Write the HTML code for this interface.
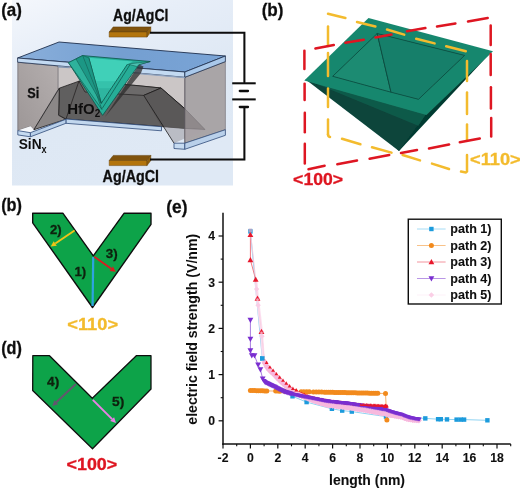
<!DOCTYPE html>
<html><head><meta charset="utf-8"><title>figure</title>
<style>
html,body{margin:0;padding:0;background:#fff;}
body{width:520px;height:489px;overflow:hidden;}
svg{display:block;}
.cb{font-family:"Liberation Sans",sans-serif;font-weight:bold;}
</style></head><body>
<svg width="520" height="489" viewBox="0 0 520 489">
<defs>
<linearGradient id="bg" x1="0" y1="0" x2="0.45" y2="1">
<stop offset="0" stop-color="#f4f7fc"/><stop offset="0.3" stop-color="#e7eef8"/><stop offset="0.65" stop-color="#dee8f4"/><stop offset="1" stop-color="#dfe9f5"/>
</linearGradient>
<linearGradient id="siL" x1="0" y1="1" x2="1" y2="0">
<stop offset="0" stop-color="#9d9797"/><stop offset="1" stop-color="#b5afaf"/>
</linearGradient>
<linearGradient id="body" x1="0.7" y1="0" x2="0.3" y2="1">
<stop offset="0" stop-color="#0f5b4b"/><stop offset="0.35" stop-color="#0b4a3e"/><stop offset="1" stop-color="#073a31"/>
</linearGradient>
<linearGradient id="slab" x1="0" y1="0" x2="1" y2="0">
<stop offset="0" stop-color="#8aafdb"/><stop offset="0.5" stop-color="#749fd1"/><stop offset="1" stop-color="#7aa4d6"/>
</linearGradient>
<filter id="soft" x="-5%" y="-5%" width="110%" height="110%"><feGaussianBlur stdDeviation="0.55"/></filter>
</defs>
<rect width="520" height="489" fill="#fff"/>
<g filter="url(#soft)">

<rect x="12" y="0" width="221" height="185.5" fill="url(#bg)"/>
<polygon points="58.1,66.0 184.8,77.0 184.8,109.0 161.0,88.0 78.9,81.2 59.3,88.2 58.1,89.5" fill="#cbc6c6"/>
<polygon points="17.8,62.2 58.1,66.0 58.1,89.5 33.9,129.7 30.5,126.3 17.8,130.6" fill="url(#siL)" stroke="#5a565c" stroke-width="0.6" stroke-linejoin="round"/>
<polygon points="17.8,130.6 30.5,126.3 33.9,129.7 30.4,132.7" fill="#f6f8fb"/>
<polygon points="59.3,88.2 78.9,81.2 135.0,85.4 161.0,88.0 184.8,108.7 184.8,128.4 161.0,126.5 65.9,119.0 58.6,115.3" fill="#615e5e" stroke="#1c1b1b" stroke-width="0.8" stroke-linejoin="round"/>
<polygon points="78.9,81.2 135.0,85.4 161.0,88.0 143.7,95.4 85.0,92.0" fill="#6c6a6a" stroke="#1c1b1b" stroke-width="0.7" stroke-linejoin="round"/>
<polygon points="59.3,88.2 58.6,115.3 65.9,119.3 33.9,129.7" fill="#8b8787" stroke="#1c1b1b" stroke-width="0.8" stroke-linejoin="round"/>
<line x1="78.9" y1="81.2" x2="65.9" y2="119.3" stroke="#1c1b1b" stroke-width="0.7"/>
<polygon points="65.9,119.0 161.5,126.7 161.5,130.8 65.9,123.3" fill="#c2d7ee" stroke="#2e4a78" stroke-width="0.8" stroke-linejoin="round"/>
<polygon points="17.8,130.6 30.4,132.7 30.4,136.8 17.8,134.9" fill="#c6dbf1" stroke="#2e4a78" stroke-width="0.8" stroke-linejoin="round"/>
<polygon points="30.4,132.7 65.9,119.3 65.9,123.3 30.4,136.8" fill="#b9d0ea" stroke="#2e4a78" stroke-width="0.8" stroke-linejoin="round"/>
<polygon points="143.7,95.4 161.0,88.0 205.0,129.5 174.0,143.2" fill="#8d878b" fill-opacity="0.45"/>
<polygon points="143.7,95.4 161.0,88.0 184.8,108.7 184.8,128.4 161.5,126.5" fill="#545252" fill-opacity="0.8"/>
<polyline points="161,88 143.7,95.4 174,143.2" fill="none" stroke="#1c1b1b" stroke-width="0.8"/>
<line x1="161.0" y1="88.0" x2="184.8" y2="108.7" stroke="#1c1b1b" stroke-width="0.8"/>
<polygon points="184.8,77.3 225.4,61.6 225.4,129.7 184.8,143.2" fill="#a39d9f" stroke="#5d5860" stroke-width="0.5" stroke-linejoin="round" fill-opacity="0.9"/>
<polygon points="184.8,108.7 205.0,129.5 184.8,128.4" fill="#8b8587" fill-opacity="0.85"/>
<polygon points="184.8,128.4 205.0,129.5 184.8,141.0" fill="#aaa4a8" fill-opacity="0.8"/>
<line x1="184.8" y1="108.7" x2="205.0" y2="129.5" stroke="#6d686c" stroke-width="0.5"/>
<line x1="184.8" y1="128.4" x2="205.0" y2="129.5" stroke="#6d686c" stroke-width="0.5"/>
<line x1="184.8" y1="77.3" x2="184.8" y2="143.2" stroke="#4d4850" stroke-width="0.6"/>
<polygon points="174.0,143.2 184.8,143.2 184.8,149.3 174.0,148.5" fill="#c6dbf1" stroke="#2e4a78" stroke-width="0.8" stroke-linejoin="round"/>
<polygon points="184.8,143.2 225.4,129.7 225.4,135.3 184.8,149.3" fill="#b9d0ea" stroke="#2e4a78" stroke-width="0.8" stroke-linejoin="round"/>
<polygon points="17.6,58.0 59.0,42.0 225.4,56.0 184.8,72.0" fill="url(#slab)" stroke="#1e2f4d" stroke-width="0.9" stroke-linejoin="round"/>
<polygon points="17.6,58.0 184.8,72.0 184.8,77.3 17.6,62.2" fill="#c3daf2" stroke="#1e2f4d" stroke-width="0.8" stroke-linejoin="round"/>
<polygon points="184.8,72.0 225.4,56.0 225.4,61.6 184.8,77.3" fill="#a9c8ea" stroke="#1e2f4d" stroke-width="0.8" stroke-linejoin="round"/>
<polygon points="58.1,65.8 68.0,66.7 70.0,68.3 58.1,67.4" fill="#7f93b0"/>
<polygon points="134.0,72.5 184.8,77.0 184.8,78.2 133.0,73.8" fill="#8fa3bf"/>
<polygon points="139.0,64.5 143.5,66.5 141.0,73.0 105.0,117.0" fill="#2e2c2c" fill-opacity="0.75"/>
<polygon points="68.5,62.7 82.7,55.6 150.2,61.5 139.0,64.6 102.6,115.4" fill="#25ad97" stroke="#0f5248" stroke-width="0.8" stroke-linejoin="round"/>
<polygon points="127.4,64.0 150.2,61.5 139.0,64.6 137.0,66.5" fill="#4cc2b2" stroke="#0f5248" stroke-width="0.5" stroke-linejoin="round"/>
<polygon points="88.8,57.8 133.0,61.4 127.4,64.2 101.3,103.3" fill="#3fd0b8"/>
<polygon points="94.2,81.3 116.0,81.3 101.3,103.3" fill="#35c2ab"/>
<polygon points="96.6,88.3 111.3,88.3 101.3,103.3" fill="#2db5a0"/>
<line x1="101.3" y1="103.3" x2="88.8" y2="57.8" stroke="#0f5248" stroke-width="0.8"/>
<line x1="101.3" y1="103.3" x2="127.4" y2="64.2" stroke="#0f5248" stroke-width="0.8"/>
<polygon points="68.5,62.7 82.7,55.6 101.9,109.5" fill="#2db29c" stroke="#0f5248" stroke-width="0.6" stroke-linejoin="round"/>
<polygon points="76.0,59.0 82.7,55.6 88.8,57.8 101.3,103.3" fill="#1f9785" stroke="#0f5248" stroke-width="0.5" stroke-linejoin="round"/>
<line x1="82.7" y1="55.6" x2="101.3" y2="103.3" stroke="#0f5248" stroke-width="0.5"/>
<line x1="130.0" y1="64.6" x2="102.2" y2="108.5" stroke="#0f5248" stroke-width="0.7"/>
<polygon points="113.2,26.9 150.8,26.9 147.0,32.0 109.2,32.0" fill="#80530f" stroke="#5e3c06" stroke-width="0.5" stroke-linejoin="round"/>
<polygon points="109.2,32.0 147.0,32.0 147.0,37.1 109.2,37.1" fill="#b3750f" stroke="#6b4508" stroke-width="0.5" stroke-linejoin="round"/>
<polygon points="147.0,32.0 150.8,26.9 150.8,32.1 147.0,37.1" fill="#8f5e0e" stroke="#6b4508" stroke-width="0.5" stroke-linejoin="round"/>
<polygon points="113.2,155.4 150.8,155.4 147.0,160.5 109.2,160.5" fill="#80530f" stroke="#5e3c06" stroke-width="0.5" stroke-linejoin="round"/>
<polygon points="109.2,160.5 147.0,160.5 147.0,165.6 109.2,165.6" fill="#b3750f" stroke="#6b4508" stroke-width="0.5" stroke-linejoin="round"/>
<polygon points="147.0,160.5 150.8,155.4 150.8,160.6 147.0,165.6" fill="#8f5e0e" stroke="#6b4508" stroke-width="0.5" stroke-linejoin="round"/>
<polyline points="150,32.8 244.4,32.8 244.4,83.3" fill="none" stroke="#0a0a0a" stroke-width="2"/>
<polyline points="150,159.6 244.4,159.6 244.4,107" fill="none" stroke="#0a0a0a" stroke-width="2"/>
<line x1="232.2" y1="83.3" x2="255.7" y2="83.3" stroke="#0a0a0a" stroke-width="2"/>
<line x1="239.8" y1="91.0" x2="248.0" y2="91.0" stroke="#0a0a0a" stroke-width="2.3" stroke-linecap="round"/>
<line x1="232.2" y1="99.4" x2="255.7" y2="99.4" stroke="#0a0a0a" stroke-width="2"/>
<line x1="239.8" y1="107.0" x2="248.0" y2="107.0" stroke="#0a0a0a" stroke-width="2.3" stroke-linecap="round"/>
<text class="cb" x="1.2" y="15.6" font-size="18.5" fill="#111" stroke="#111" stroke-width="0.3" text-anchor="start" textLength="20.8" lengthAdjust="spacingAndGlyphs">(a)</text>
<text class="cb" x="113" y="20.8" font-size="16.2" fill="#111" stroke="#111" stroke-width="0.3" text-anchor="start" textLength="55.5" lengthAdjust="spacingAndGlyphs">Ag/AgCl</text>
<text class="cb" x="102.6" y="181.8" font-size="16.2" fill="#111" stroke="#111" stroke-width="0.3" text-anchor="start" textLength="56.5" lengthAdjust="spacingAndGlyphs">Ag/AgCl</text>
<text class="cb" x="27.3" y="98.3" font-size="15" fill="#111" stroke="#111" stroke-width="0.3" text-anchor="start" textLength="12" lengthAdjust="spacingAndGlyphs">Si</text>
<text class="cb" x="67.3" y="113.8" font-size="15" fill="#111" textLength="33" lengthAdjust="spacingAndGlyphs">HfO<tspan font-size="10" dy="3.2">2</tspan></text>
<text class="cb" x="18.7" y="149.4" font-size="15" fill="#111" textLength="28" lengthAdjust="spacingAndGlyphs">SiN<tspan font-size="10" dy="3.2">x</tspan></text>
<polygon points="423.4,113.0 492.0,51.2 399.0,151.0 397.0,149.0" fill="#063a30"/>
<polygon points="305.3,79.2 426.4,113.5 399.0,151.0" fill="#08443a"/>
<polygon points="305.3,79.2 426.4,113.5 418.2,125.8" fill="#0e5a4a"/>
<polygon points="304.3,80.4 368.5,18.0 493.0,51.2 426.4,115.0" fill="#18876e"/>
<polygon points="332.7,76.3 377.2,33.5 391.0,92.2" fill="#1e8b72" stroke="#0a463b" stroke-width="0.8" stroke-linejoin="round"/>
<polygon points="377.2,33.5 464.6,55.4 418.5,99.3 391.0,92.2" fill="#187f6a" stroke="#0a463b" stroke-width="0.8" stroke-linejoin="round"/>
<line x1="328.0" y1="13.8" x2="345.4" y2="18.0" stroke="#f3bb2d" stroke-width="2.5" stroke-linecap="round"/>
<line x1="357.0" y1="22.0" x2="375.4" y2="26.5" stroke="#f3bb2d" stroke-width="2.5" stroke-linecap="round"/>
<line x1="387.0" y1="29.5" x2="404.2" y2="34.6" stroke="#f3bb2d" stroke-width="2.5" stroke-linecap="round"/>
<line x1="416.2" y1="38.8" x2="434.6" y2="43.4" stroke="#f3bb2d" stroke-width="2.5" stroke-linecap="round"/>
<line x1="446.2" y1="46.2" x2="465.8" y2="51.2" stroke="#f3bb2d" stroke-width="2.5" stroke-linecap="round"/>
<line x1="328.0" y1="26.5" x2="328.0" y2="46.0" stroke="#f3bb2d" stroke-width="2.5" stroke-linecap="round"/>
<line x1="328.0" y1="53.0" x2="328.0" y2="76.0" stroke="#f3bb2d" stroke-width="2.5" stroke-linecap="round"/>
<line x1="328.0" y1="88.5" x2="328.0" y2="107.0" stroke="#f3bb2d" stroke-width="2.5" stroke-linecap="round"/>
<line x1="328.0" y1="119.6" x2="328.0" y2="134.5" stroke="#f3bb2d" stroke-width="2.5" stroke-linecap="round"/>
<line x1="467.0" y1="61.0" x2="467.0" y2="81.0" stroke="#f3bb2d" stroke-width="2.5" stroke-linecap="round"/>
<line x1="467.0" y1="92.6" x2="467.0" y2="114.0" stroke="#f3bb2d" stroke-width="2.5" stroke-linecap="round"/>
<line x1="467.0" y1="124.5" x2="467.0" y2="140.5" stroke="#f3bb2d" stroke-width="2.5" stroke-linecap="round"/>
<line x1="467.0" y1="155.0" x2="467.0" y2="171.5" stroke="#f3bb2d" stroke-width="2.5" stroke-linecap="round"/>
<line x1="342.0" y1="138.8" x2="360.4" y2="144.3" stroke="#f3bb2d" stroke-width="2.5" stroke-linecap="round"/>
<line x1="372.0" y1="147.3" x2="391.5" y2="152.6" stroke="#f3bb2d" stroke-width="2.5" stroke-linecap="round"/>
<line x1="402.7" y1="155.0" x2="420.0" y2="160.4" stroke="#f3bb2d" stroke-width="2.5" stroke-linecap="round"/>
<line x1="432.0" y1="163.6" x2="449.0" y2="169.0" stroke="#f3bb2d" stroke-width="2.5" stroke-linecap="round"/>
<line x1="461.0" y1="171.6" x2="466.0" y2="172.4" stroke="#f3bb2d" stroke-width="2.5" stroke-linecap="round"/>
<path d="M328,134.5 Q328,136.5 330,137" fill="none" stroke="#f3bb2d" stroke-width="2.5" stroke-linecap="round"/>
<line x1="304.4" y1="50.8" x2="304.4" y2="69.0" stroke="#de1420" stroke-width="2.5" stroke-linecap="round"/>
<line x1="304.6" y1="83.8" x2="304.6" y2="100.0" stroke="#de1420" stroke-width="2.5" stroke-linecap="round"/>
<line x1="304.8" y1="112.7" x2="304.8" y2="132.3" stroke="#de1420" stroke-width="2.5" stroke-linecap="round"/>
<line x1="304.8" y1="143.8" x2="304.8" y2="163.5" stroke="#de1420" stroke-width="2.5" stroke-linecap="round"/>
<line x1="315.4" y1="48.5" x2="333.8" y2="45.0" stroke="#de1420" stroke-width="2.5" stroke-linecap="round"/>
<line x1="345.4" y1="42.7" x2="363.8" y2="39.7" stroke="#de1420" stroke-width="2.5" stroke-linecap="round"/>
<line x1="375.4" y1="37.4" x2="391.5" y2="34.6" stroke="#de1420" stroke-width="2.5" stroke-linecap="round"/>
<line x1="407.0" y1="31.2" x2="425.4" y2="28.1" stroke="#de1420" stroke-width="2.5" stroke-linecap="round"/>
<line x1="437.0" y1="26.5" x2="455.4" y2="23.5" stroke="#de1420" stroke-width="2.5" stroke-linecap="round"/>
<line x1="468.0" y1="21.5" x2="487.7" y2="18.0" stroke="#de1420" stroke-width="2.5" stroke-linecap="round"/>
<line x1="490.7" y1="25.4" x2="490.7" y2="45.0" stroke="#de1420" stroke-width="2.5" stroke-linecap="round"/>
<line x1="490.7" y1="54.0" x2="490.7" y2="75.0" stroke="#de1420" stroke-width="2.5" stroke-linecap="round"/>
<line x1="490.9" y1="87.3" x2="490.9" y2="108.6" stroke="#de1420" stroke-width="2.5" stroke-linecap="round"/>
<line x1="491.2" y1="117.9" x2="491.2" y2="136.5" stroke="#de1420" stroke-width="2.5" stroke-linecap="round"/>
<line x1="308.5" y1="169.2" x2="324.6" y2="165.8" stroke="#de1420" stroke-width="2.5" stroke-linecap="round"/>
<line x1="337.3" y1="164.2" x2="357.0" y2="160.5" stroke="#de1420" stroke-width="2.5" stroke-linecap="round"/>
<line x1="369.6" y1="158.8" x2="389.2" y2="155.0" stroke="#de1420" stroke-width="2.5" stroke-linecap="round"/>
<line x1="401.0" y1="153.0" x2="417.0" y2="150.0" stroke="#de1420" stroke-width="2.5" stroke-linecap="round"/>
<line x1="429.0" y1="148.5" x2="449.0" y2="144.5" stroke="#de1420" stroke-width="2.5" stroke-linecap="round"/>
<line x1="459.8" y1="142.3" x2="479.8" y2="138.6" stroke="#de1420" stroke-width="2.5" stroke-linecap="round"/>
<text class="cb" x="293.1" y="184.6" font-size="17" fill="#de1420" stroke="#de1420" stroke-width="0.3" text-anchor="start" textLength="50" lengthAdjust="spacingAndGlyphs">&lt;100&gt;</text>
<text class="cb" x="470" y="165.4" font-size="17.2" fill="#f3bb2d" stroke="#f3bb2d" stroke-width="0.3" text-anchor="start" textLength="50.8" lengthAdjust="spacingAndGlyphs">&lt;110&gt;</text>
<text class="cb" x="261.7" y="15.6" font-size="18.5" fill="#111" stroke="#111" stroke-width="0.3" text-anchor="start" textLength="21.8" lengthAdjust="spacingAndGlyphs">(b)</text>
<polygon points="32.7,213.3 63.0,213.3 93.3,255.8 124.0,213.3 151.0,213.3 151.0,224.4 92.5,307.5 32.7,222.8" fill="#11a348" stroke="#101010" stroke-width="1.4" stroke-linejoin="round"/>
<line x1="93.2" y1="257.0" x2="92.6" y2="306.0" stroke="#2ea3e0" stroke-width="2.2"/>
<line x1="74.6" y1="230.5" x2="55.3" y2="243.5" stroke="#f0c419" stroke-width="1.9"/>
<polygon points="50.7,246.6 53.7,241.2 56.8,245.8" fill="#f0c419"/>
<line x1="94.3" y1="256.8" x2="111.3" y2="268.7" stroke="#d81c22" stroke-width="1.9"/>
<polygon points="115.8,271.8 109.7,270.9 112.9,266.4" fill="#d81c22"/>
<text class="cb" x="50" y="233.7" font-size="13.7" fill="#08200f" stroke="#08200f" stroke-width="0.3" text-anchor="start" textLength="11.7" lengthAdjust="spacingAndGlyphs">2)</text>
<text class="cb" x="74.4" y="275.9" font-size="13.7" fill="#08200f" stroke="#08200f" stroke-width="0.3" text-anchor="start" textLength="11.7" lengthAdjust="spacingAndGlyphs">1)</text>
<text class="cb" x="105.8" y="258" font-size="13.7" fill="#08200f" stroke="#08200f" stroke-width="0.3" text-anchor="start" textLength="11.9" lengthAdjust="spacingAndGlyphs">3)</text>
<text class="cb" x="67.3" y="329.6" font-size="17.2" fill="#f3bb2d" stroke="#f3bb2d" stroke-width="0.3" text-anchor="start" textLength="50.8" lengthAdjust="spacingAndGlyphs">&lt;110&gt;</text>
<text class="cb" x="1.2" y="211.2" font-size="18.5" fill="#111" stroke="#111" stroke-width="0.3" text-anchor="start" textLength="20.8" lengthAdjust="spacingAndGlyphs">(b)</text>
<polygon points="32.8,355.7 49.5,355.7 92.3,398.2 136.3,355.7 151.0,355.7 151.0,389.0 92.5,448.7 32.7,390.5" fill="#11a348" stroke="#101010" stroke-width="1.3" stroke-linejoin="round"/>
<line x1="75.8" y1="384.0" x2="56.3" y2="402.2" stroke="#63566f" stroke-width="1.9"/>
<polygon points="52.3,406.0 54.4,400.2 58.2,404.2" fill="#63566f"/>
<line x1="92.8" y1="399.8" x2="112.1" y2="419.1" stroke="#ea80e6" stroke-width="1.9"/>
<polygon points="116.0,423.0 110.2,421.1 114.1,417.2" fill="#ea80e6"/>
<text class="cb" x="47" y="385.5" font-size="13.7" fill="#08200f" stroke="#08200f" stroke-width="0.3" text-anchor="start" textLength="12.2" lengthAdjust="spacingAndGlyphs">4)</text>
<text class="cb" x="112" y="405.5" font-size="13.7" fill="#08200f" stroke="#08200f" stroke-width="0.3" text-anchor="start" textLength="12.2" lengthAdjust="spacingAndGlyphs">5)</text>
<text class="cb" x="66.5" y="470.3" font-size="17" fill="#de1420" stroke="#de1420" stroke-width="0.3" text-anchor="start" textLength="50.8" lengthAdjust="spacingAndGlyphs">&lt;100&gt;</text>
<text class="cb" x="1.2" y="353.6" font-size="18.5" fill="#111" stroke="#111" stroke-width="0.3" text-anchor="start" textLength="20.8" lengthAdjust="spacingAndGlyphs">(d)</text>
<line x1="223.0" y1="212.8" x2="223.0" y2="444.7" stroke="#111" stroke-width="1.5"/>
<line x1="222.3" y1="444.0" x2="510.7" y2="444.0" stroke="#111" stroke-width="1.5"/>
<line x1="223.0" y1="444.0" x2="223.0" y2="448.4" stroke="#111" stroke-width="1.2"/>
<text class="cb" x="223.0" y="462.4" font-size="12.2" fill="#111" stroke="#111" stroke-width="0.1" text-anchor="middle">-2</text>
<line x1="236.7" y1="444.0" x2="236.7" y2="446.3" stroke="#111" stroke-width="1.1"/>
<line x1="250.4" y1="444.0" x2="250.4" y2="448.4" stroke="#111" stroke-width="1.2"/>
<text class="cb" x="250.4" y="462.4" font-size="12.2" fill="#111" stroke="#111" stroke-width="0.1" text-anchor="middle">0</text>
<line x1="264.1" y1="444.0" x2="264.1" y2="446.3" stroke="#111" stroke-width="1.1"/>
<line x1="277.8" y1="444.0" x2="277.8" y2="448.4" stroke="#111" stroke-width="1.2"/>
<text class="cb" x="277.8" y="462.4" font-size="12.2" fill="#111" stroke="#111" stroke-width="0.1" text-anchor="middle">2</text>
<line x1="291.5" y1="444.0" x2="291.5" y2="446.3" stroke="#111" stroke-width="1.1"/>
<line x1="305.2" y1="444.0" x2="305.2" y2="448.4" stroke="#111" stroke-width="1.2"/>
<text class="cb" x="305.2" y="462.4" font-size="12.2" fill="#111" stroke="#111" stroke-width="0.1" text-anchor="middle">4</text>
<line x1="318.9" y1="444.0" x2="318.9" y2="446.3" stroke="#111" stroke-width="1.1"/>
<line x1="332.6" y1="444.0" x2="332.6" y2="448.4" stroke="#111" stroke-width="1.2"/>
<text class="cb" x="332.6" y="462.4" font-size="12.2" fill="#111" stroke="#111" stroke-width="0.1" text-anchor="middle">6</text>
<line x1="346.3" y1="444.0" x2="346.3" y2="446.3" stroke="#111" stroke-width="1.1"/>
<line x1="360.0" y1="444.0" x2="360.0" y2="448.4" stroke="#111" stroke-width="1.2"/>
<text class="cb" x="360.0" y="462.4" font-size="12.2" fill="#111" stroke="#111" stroke-width="0.1" text-anchor="middle">8</text>
<line x1="373.7" y1="444.0" x2="373.7" y2="446.3" stroke="#111" stroke-width="1.1"/>
<line x1="387.4" y1="444.0" x2="387.4" y2="448.4" stroke="#111" stroke-width="1.2"/>
<text class="cb" x="387.4" y="462.4" font-size="12.2" fill="#111" stroke="#111" stroke-width="0.1" text-anchor="middle">10</text>
<line x1="401.1" y1="444.0" x2="401.1" y2="446.3" stroke="#111" stroke-width="1.1"/>
<line x1="414.8" y1="444.0" x2="414.8" y2="448.4" stroke="#111" stroke-width="1.2"/>
<text class="cb" x="414.8" y="462.4" font-size="12.2" fill="#111" stroke="#111" stroke-width="0.1" text-anchor="middle">12</text>
<line x1="428.5" y1="444.0" x2="428.5" y2="446.3" stroke="#111" stroke-width="1.1"/>
<line x1="442.2" y1="444.0" x2="442.2" y2="448.4" stroke="#111" stroke-width="1.2"/>
<text class="cb" x="442.2" y="462.4" font-size="12.2" fill="#111" stroke="#111" stroke-width="0.1" text-anchor="middle">14</text>
<line x1="455.9" y1="444.0" x2="455.9" y2="446.3" stroke="#111" stroke-width="1.1"/>
<line x1="469.6" y1="444.0" x2="469.6" y2="448.4" stroke="#111" stroke-width="1.2"/>
<text class="cb" x="469.6" y="462.4" font-size="12.2" fill="#111" stroke="#111" stroke-width="0.1" text-anchor="middle">16</text>
<line x1="483.3" y1="444.0" x2="483.3" y2="446.3" stroke="#111" stroke-width="1.1"/>
<line x1="497.0" y1="444.0" x2="497.0" y2="448.4" stroke="#111" stroke-width="1.2"/>
<text class="cb" x="497.0" y="462.4" font-size="12.2" fill="#111" stroke="#111" stroke-width="0.1" text-anchor="middle">18</text>
<line x1="510.7" y1="444.0" x2="510.7" y2="446.3" stroke="#111" stroke-width="1.1"/>
<line x1="218.6" y1="420.8" x2="223.0" y2="420.8" stroke="#111" stroke-width="1.2"/>
<text class="cb" x="215.0" y="425.1" font-size="12.2" fill="#111" stroke="#111" stroke-width="0.1" text-anchor="end">0</text>
<line x1="220.7" y1="397.7" x2="223.0" y2="397.7" stroke="#111" stroke-width="1.1"/>
<line x1="218.6" y1="374.6" x2="223.0" y2="374.6" stroke="#111" stroke-width="1.2"/>
<text class="cb" x="215.0" y="378.9" font-size="12.2" fill="#111" stroke="#111" stroke-width="0.1" text-anchor="end">1</text>
<line x1="220.7" y1="351.5" x2="223.0" y2="351.5" stroke="#111" stroke-width="1.1"/>
<line x1="218.6" y1="328.4" x2="223.0" y2="328.4" stroke="#111" stroke-width="1.2"/>
<text class="cb" x="215.0" y="332.7" font-size="12.2" fill="#111" stroke="#111" stroke-width="0.1" text-anchor="end">2</text>
<line x1="220.7" y1="305.3" x2="223.0" y2="305.3" stroke="#111" stroke-width="1.1"/>
<line x1="218.6" y1="282.2" x2="223.0" y2="282.2" stroke="#111" stroke-width="1.2"/>
<text class="cb" x="215.0" y="286.5" font-size="12.2" fill="#111" stroke="#111" stroke-width="0.1" text-anchor="end">3</text>
<line x1="220.7" y1="259.1" x2="223.0" y2="259.1" stroke="#111" stroke-width="1.1"/>
<line x1="218.6" y1="236.0" x2="223.0" y2="236.0" stroke="#111" stroke-width="1.2"/>
<text class="cb" x="215.0" y="240.3" font-size="12.2" fill="#111" stroke="#111" stroke-width="0.1" text-anchor="end">4</text>
<text class="cb" x="367" y="485" font-size="14" fill="#111" stroke="#111" stroke-width="0.1" text-anchor="middle" textLength="76" lengthAdjust="spacingAndGlyphs">length (nm)</text>
<text class="cb" transform="translate(197,329.2) rotate(-90)" font-size="14" fill="#111" text-anchor="middle" textLength="191" lengthAdjust="spacingAndGlyphs">electric field strength (V/nm)</text>
<polyline points="250.4,231.4 262.3,358.4 292.5,396.3 306.6,402.1 331.9,408.8 342.2,410.6 351.8,411.6 386.0,416.6 425.3,418.4 438.1,419.2 440.8,419.2 447.0,419.4 456.6,419.6 460.7,419.6 464.1,419.6 487.4,420.3" fill="none" stroke="#8fd3f2" stroke-width="1.0" stroke-opacity="1" stroke-linejoin="round"/>
<rect x="248.2" y="229.2" width="4.4" height="4.4" fill="#1c9bdc"/>
<rect x="260.1" y="356.2" width="4.4" height="4.4" fill="#1c9bdc"/>
<rect x="290.3" y="394.1" width="4.4" height="4.4" fill="#1c9bdc"/>
<rect x="304.4" y="399.9" width="4.4" height="4.4" fill="#1c9bdc"/>
<rect x="329.7" y="406.6" width="4.4" height="4.4" fill="#1c9bdc"/>
<rect x="340.0" y="408.4" width="4.4" height="4.4" fill="#1c9bdc"/>
<rect x="349.6" y="409.4" width="4.4" height="4.4" fill="#1c9bdc"/>
<rect x="383.8" y="414.4" width="4.4" height="4.4" fill="#1c9bdc"/>
<rect x="423.1" y="416.2" width="4.4" height="4.4" fill="#1c9bdc"/>
<rect x="435.9" y="417.0" width="4.4" height="4.4" fill="#1c9bdc"/>
<rect x="438.6" y="417.0" width="4.4" height="4.4" fill="#1c9bdc"/>
<rect x="444.8" y="417.2" width="4.4" height="4.4" fill="#1c9bdc"/>
<rect x="454.4" y="417.4" width="4.4" height="4.4" fill="#1c9bdc"/>
<rect x="458.5" y="417.4" width="4.4" height="4.4" fill="#1c9bdc"/>
<rect x="461.9" y="417.4" width="4.4" height="4.4" fill="#1c9bdc"/>
<rect x="485.2" y="418.1" width="4.4" height="4.4" fill="#1c9bdc"/>
<polyline points="250.4,390.5 252.5,390.6 254.5,390.6 256.6,390.7 258.6,390.7 260.7,390.8 262.7,390.8 264.8,390.9 266.8,390.9 275.7,391.1 277.8,391.1 279.9,391.2 284.6,391.3 290.1,391.4 295.6,391.5 301.1,391.7 303.8,391.7 306.6,391.8 309.3,391.8 313.4,391.9 316.2,392.0 318.9,392.0 321.6,392.1 324.4,392.2 326.4,392.2 328.5,392.3 330.5,392.3 332.6,392.3 334.7,392.4 336.7,392.4 338.8,392.5 340.8,392.5 342.9,392.6 344.9,392.6 347.0,392.7 349.0,392.7 351.1,392.7 353.1,392.8 355.2,392.8 357.3,392.9 359.3,392.9 361.4,393.0 363.4,393.0 365.5,393.1 367.5,393.1 369.6,393.2 371.6,393.2 373.7,393.2 375.8,393.3 377.8,393.3 385.5,393.5 386.9,420.1" fill="none" stroke="#f6b26b" stroke-width="1.0" stroke-opacity="1" stroke-linejoin="round"/>
<circle cx="250.4" cy="390.5" r="2.5" fill="#f28a1c"/>
<circle cx="252.5" cy="390.6" r="2.5" fill="#f28a1c"/>
<circle cx="254.5" cy="390.6" r="2.5" fill="#f28a1c"/>
<circle cx="256.6" cy="390.7" r="2.5" fill="#f28a1c"/>
<circle cx="258.6" cy="390.7" r="2.5" fill="#f28a1c"/>
<circle cx="260.7" cy="390.8" r="2.5" fill="#f28a1c"/>
<circle cx="262.7" cy="390.8" r="2.5" fill="#f28a1c"/>
<circle cx="264.8" cy="390.9" r="2.5" fill="#f28a1c"/>
<circle cx="266.8" cy="390.9" r="2.5" fill="#f28a1c"/>
<circle cx="275.7" cy="391.1" r="2.5" fill="#f28a1c"/>
<circle cx="277.8" cy="391.1" r="2.5" fill="#f28a1c"/>
<circle cx="279.9" cy="391.2" r="2.5" fill="#f28a1c"/>
<circle cx="284.6" cy="391.3" r="2.5" fill="#f28a1c"/>
<circle cx="290.1" cy="391.4" r="2.5" fill="#f28a1c"/>
<circle cx="295.6" cy="391.5" r="2.5" fill="#f28a1c"/>
<circle cx="301.1" cy="391.7" r="2.5" fill="#f28a1c"/>
<circle cx="303.8" cy="391.7" r="2.5" fill="#f28a1c"/>
<circle cx="306.6" cy="391.8" r="2.5" fill="#f28a1c"/>
<circle cx="309.3" cy="391.8" r="2.5" fill="#f28a1c"/>
<circle cx="313.4" cy="391.9" r="2.5" fill="#f28a1c"/>
<circle cx="316.2" cy="392.0" r="2.5" fill="#f28a1c"/>
<circle cx="318.9" cy="392.0" r="2.5" fill="#f28a1c"/>
<circle cx="321.6" cy="392.1" r="2.5" fill="#f28a1c"/>
<circle cx="324.4" cy="392.2" r="2.5" fill="#f28a1c"/>
<circle cx="326.4" cy="392.2" r="2.5" fill="#f28a1c"/>
<circle cx="328.5" cy="392.3" r="2.5" fill="#f28a1c"/>
<circle cx="330.5" cy="392.3" r="2.5" fill="#f28a1c"/>
<circle cx="332.6" cy="392.3" r="2.5" fill="#f28a1c"/>
<circle cx="334.7" cy="392.4" r="2.5" fill="#f28a1c"/>
<circle cx="336.7" cy="392.4" r="2.5" fill="#f28a1c"/>
<circle cx="338.8" cy="392.5" r="2.5" fill="#f28a1c"/>
<circle cx="340.8" cy="392.5" r="2.5" fill="#f28a1c"/>
<circle cx="342.9" cy="392.6" r="2.5" fill="#f28a1c"/>
<circle cx="344.9" cy="392.6" r="2.5" fill="#f28a1c"/>
<circle cx="347.0" cy="392.7" r="2.5" fill="#f28a1c"/>
<circle cx="349.0" cy="392.7" r="2.5" fill="#f28a1c"/>
<circle cx="351.1" cy="392.7" r="2.5" fill="#f28a1c"/>
<circle cx="353.1" cy="392.8" r="2.5" fill="#f28a1c"/>
<circle cx="355.2" cy="392.8" r="2.5" fill="#f28a1c"/>
<circle cx="357.3" cy="392.9" r="2.5" fill="#f28a1c"/>
<circle cx="359.3" cy="392.9" r="2.5" fill="#f28a1c"/>
<circle cx="361.4" cy="393.0" r="2.5" fill="#f28a1c"/>
<circle cx="363.4" cy="393.0" r="2.5" fill="#f28a1c"/>
<circle cx="365.5" cy="393.1" r="2.5" fill="#f28a1c"/>
<circle cx="367.5" cy="393.1" r="2.5" fill="#f28a1c"/>
<circle cx="369.6" cy="393.2" r="2.5" fill="#f28a1c"/>
<circle cx="371.6" cy="393.2" r="2.5" fill="#f28a1c"/>
<circle cx="373.7" cy="393.2" r="2.5" fill="#f28a1c"/>
<circle cx="375.8" cy="393.3" r="2.5" fill="#f28a1c"/>
<circle cx="377.8" cy="393.3" r="2.5" fill="#f28a1c"/>
<circle cx="385.5" cy="393.5" r="2.5" fill="#f28a1c"/>
<circle cx="386.9" cy="420.1" r="2.5" fill="#f28a1c"/>
<polyline points="250.4,230.5 250.4,260.0 255.7,279.4 257.5,298.4 261.5,331.6 264.1,359.4 268.2,366.7 274.2,372.8 283.8,382.5 293.6,390.3 312.7,397.7 332.6,401.4 360.0,404.6 385.5,406.0" fill="none" stroke="#f07a85" stroke-width="1.0" stroke-opacity="1" stroke-linejoin="round"/>
<polyline points="250.4,320.1 250.4,339.0 250.4,350.6 251.8,355.7 254.5,355.7 258.1,364.9 260.4,369.5 262.7,378.8 264.6,382.0 274.2,386.6 283.8,391.5 293.6,394.5 312.7,398.3 327.1,401.2 350.4,403.7 367.3,406.3 385.5,409.7 401.9,414.6 420.0,419.4" fill="none" stroke="#a77be0" stroke-width="1.0" stroke-opacity="1" stroke-linejoin="round"/>
<polyline points="250.4,231.4 255.7,279.4" fill="none" stroke="#f3c9dc" stroke-width="1.0" stroke-opacity="0.9" stroke-linejoin="round"/>
<polyline points="256.0,282.2 257.5,298.4 261.5,331.6 263.4,360.7" fill="none" stroke="#fbdcee" stroke-width="3.0" stroke-opacity="0.9" stroke-linejoin="round"/>
<polygon points="256.6,286.4 259.3,289.1 256.6,291.8 253.9,289.1" fill="#f9cde6"/>
<polygon points="257.5,295.7 260.2,298.4 257.5,301.1 254.8,298.4" fill="#f9cde6"/>
<polygon points="258.1,302.6 260.8,305.3 258.1,308.0 255.4,305.3" fill="#f9cde6"/>
<polygon points="261.5,328.9 264.2,331.6 261.5,334.3 258.8,331.6" fill="#f9cde6"/>
<polygon points="261.9,333.6 264.6,336.3 261.9,339.0 259.2,336.3" fill="#f9cde6"/>
<polygon points="250.4,231.7 253.3,236.9 247.5,236.9" fill="#e8192c"/>
<polygon points="250.4,257.1 253.3,262.3 247.5,262.3" fill="#e8192c"/>
<polygon points="255.7,276.5 258.6,281.7 252.8,281.7" fill="#e8192c"/>
<polygon points="257.5,295.5 260.4,300.7 254.6,300.7" fill="#e8192c"/>
<polygon points="261.5,328.7 264.4,334.0 258.6,334.0" fill="#e8192c"/>
<polygon points="264.9,359.0 266.8,362.4 263.0,362.4" fill="#e8192c"/>
<polygon points="266.6,362.0 268.5,365.4 264.7,365.4" fill="#e8192c"/>
<polygon points="268.2,364.8 270.1,368.3 266.3,368.3" fill="#e8192c"/>
<polygon points="269.9,366.6 271.8,370.0 268.0,370.0" fill="#e8192c"/>
<polygon points="271.5,368.2 273.4,371.6 269.6,371.6" fill="#e8192c"/>
<polygon points="273.1,369.8 275.0,373.2 271.2,373.2" fill="#e8192c"/>
<polygon points="274.8,371.5 276.7,374.9 272.9,374.9" fill="#e8192c"/>
<polygon points="276.4,373.3 278.3,376.7 274.5,376.7" fill="#e8192c"/>
<polygon points="278.1,375.0 280.0,378.4 276.2,378.4" fill="#e8192c"/>
<polygon points="279.7,376.7 281.6,380.1 277.8,380.1" fill="#e8192c"/>
<polygon points="281.4,378.3 283.3,381.7 279.5,381.7" fill="#e8192c"/>
<polygon points="283.0,379.8 284.9,383.2 281.1,383.2" fill="#e8192c"/>
<polygon points="284.7,381.3 286.6,384.7 282.8,384.7" fill="#e8192c"/>
<polygon points="286.3,382.7 288.2,386.1 284.4,386.1" fill="#e8192c"/>
<polygon points="287.9,384.1 289.8,387.5 286.0,387.5" fill="#e8192c"/>
<polygon points="289.6,385.4 291.5,388.8 287.7,388.8" fill="#e8192c"/>
<polygon points="291.2,386.7 293.1,390.1 289.3,390.1" fill="#e8192c"/>
<polygon points="292.9,387.9 294.8,391.3 291.0,391.3" fill="#e8192c"/>
<polygon points="294.5,388.8 296.4,392.2 292.6,392.2" fill="#e8192c"/>
<polygon points="296.2,389.5 298.1,393.0 294.3,393.0" fill="#e8192c"/>
<polygon points="297.8,390.2 299.7,393.6 295.9,393.6" fill="#e8192c"/>
<polygon points="299.4,390.9 301.3,394.3 297.5,394.3" fill="#e8192c"/>
<polygon points="301.1,391.6 303.0,395.0 299.2,395.0" fill="#e8192c"/>
<polygon points="302.7,392.2 304.6,395.6 300.8,395.6" fill="#e8192c"/>
<polygon points="304.4,392.8 306.3,396.2 302.5,396.2" fill="#e8192c"/>
<polygon points="306.0,393.4 307.9,396.9 304.1,396.9" fill="#e8192c"/>
<polygon points="307.4,393.9 309.3,397.4 305.5,397.4" fill="#e8192c"/>
<polygon points="308.8,394.4 310.7,397.9 306.9,397.9" fill="#e8192c"/>
<polygon points="310.1,394.9 312.0,398.3 308.2,398.3" fill="#e8192c"/>
<polygon points="311.5,395.4 313.4,398.8 309.6,398.8" fill="#e8192c"/>
<polygon points="312.9,395.8 314.8,399.2 311.0,399.2" fill="#e8192c"/>
<polygon points="314.2,396.1 316.1,399.5 312.3,399.5" fill="#e8192c"/>
<polygon points="315.6,396.4 317.5,399.8 313.7,399.8" fill="#e8192c"/>
<polygon points="317.0,396.6 318.9,400.1 315.1,400.1" fill="#e8192c"/>
<polygon points="318.4,396.9 320.3,400.3 316.5,400.3" fill="#e8192c"/>
<polygon points="319.7,397.2 321.6,400.6 317.8,400.6" fill="#e8192c"/>
<polygon points="321.1,397.4 323.0,400.9 319.2,400.9" fill="#e8192c"/>
<polygon points="322.5,397.7 324.4,401.1 320.6,401.1" fill="#e8192c"/>
<polygon points="323.8,397.9 325.7,401.4 321.9,401.4" fill="#e8192c"/>
<polygon points="325.2,398.2 327.1,401.6 323.3,401.6" fill="#e8192c"/>
<polygon points="326.6,398.4 328.5,401.9 324.7,401.9" fill="#e8192c"/>
<polygon points="327.9,398.7 329.8,402.1 326.0,402.1" fill="#e8192c"/>
<polygon points="329.3,398.9 331.2,402.3 327.4,402.3" fill="#e8192c"/>
<polygon points="330.7,399.2 332.6,402.6 328.8,402.6" fill="#e8192c"/>
<polygon points="332.1,399.4 334.0,402.8 330.2,402.8" fill="#e8192c"/>
<polygon points="333.4,399.6 335.3,403.0 331.5,403.0" fill="#e8192c"/>
<polygon points="334.8,399.8 336.7,403.2 332.9,403.2" fill="#e8192c"/>
<polygon points="336.2,400.0 338.1,403.4 334.3,403.4" fill="#e8192c"/>
<polygon points="337.5,400.1 339.4,403.5 335.6,403.5" fill="#e8192c"/>
<polygon points="338.9,400.3 340.8,403.7 337.0,403.7" fill="#e8192c"/>
<polygon points="340.3,400.5 342.2,403.9 338.4,403.9" fill="#e8192c"/>
<polygon points="341.6,400.6 343.5,404.0 339.7,404.0" fill="#e8192c"/>
<polygon points="343.0,400.8 344.9,404.2 341.1,404.2" fill="#e8192c"/>
<polygon points="344.4,401.0 346.3,404.4 342.5,404.4" fill="#e8192c"/>
<polygon points="345.8,401.1 347.7,404.5 343.9,404.5" fill="#e8192c"/>
<polygon points="347.1,401.3 349.0,404.7 345.2,404.7" fill="#e8192c"/>
<polygon points="348.5,401.4 350.4,404.9 346.6,404.9" fill="#e8192c"/>
<polygon points="349.9,401.6 351.8,405.0 348.0,405.0" fill="#e8192c"/>
<polygon points="351.2,401.8 353.1,405.2 349.3,405.2" fill="#e8192c"/>
<polygon points="352.6,401.9 354.5,405.3 350.7,405.3" fill="#e8192c"/>
<polygon points="354.0,402.1 355.9,405.5 352.1,405.5" fill="#e8192c"/>
<polygon points="355.3,402.2 357.2,405.6 353.4,405.6" fill="#e8192c"/>
<polygon points="356.7,402.4 358.6,405.8 354.8,405.8" fill="#e8192c"/>
<polygon points="358.1,402.5 360.0,405.9 356.2,405.9" fill="#e8192c"/>
<polygon points="359.5,402.7 361.4,406.1 357.6,406.1" fill="#e8192c"/>
<polygon points="360.8,402.8 362.7,406.2 358.9,406.2" fill="#e8192c"/>
<polygon points="362.2,402.9 364.1,406.3 360.3,406.3" fill="#e8192c"/>
<polygon points="363.6,402.9 365.5,406.4 361.7,406.4" fill="#e8192c"/>
<polygon points="364.9,403.0 366.8,406.4 363.0,406.4" fill="#e8192c"/>
<polygon points="366.3,403.1 368.2,406.5 364.4,406.5" fill="#e8192c"/>
<polygon points="367.7,403.2 369.6,406.6 365.8,406.6" fill="#e8192c"/>
<polygon points="369.0,403.2 370.9,406.7 367.1,406.7" fill="#e8192c"/>
<polygon points="370.4,403.3 372.3,406.7 368.5,406.7" fill="#e8192c"/>
<polygon points="371.8,403.4 373.7,406.8 369.9,406.8" fill="#e8192c"/>
<polygon points="373.2,403.5 375.1,406.9 371.3,406.9" fill="#e8192c"/>
<polygon points="374.5,403.5 376.4,407.0 372.6,407.0" fill="#e8192c"/>
<polygon points="375.9,403.6 377.8,407.0 374.0,407.0" fill="#e8192c"/>
<polygon points="377.3,403.7 379.2,407.1 375.4,407.1" fill="#e8192c"/>
<polygon points="378.6,403.8 380.5,407.2 376.7,407.2" fill="#e8192c"/>
<polygon points="380.0,403.8 381.9,407.2 378.1,407.2" fill="#e8192c"/>
<polygon points="381.4,403.9 383.3,407.3 379.5,407.3" fill="#e8192c"/>
<polygon points="382.7,404.0 384.6,407.4 380.8,407.4" fill="#e8192c"/>
<polygon points="384.1,404.0 386.0,407.5 382.2,407.5" fill="#e8192c"/>
<polygon points="385.5,404.1 387.4,407.5 383.6,407.5" fill="#e8192c"/>
<polygon points="386.9,404.1 388.8,407.5 385.0,407.5" fill="#e8192c"/>
<circle cx="257.5" cy="299.6" r="1.3" fill="#f9cde6" fill-opacity="0.75"/>
<circle cx="261.5" cy="332.9" r="1.3" fill="#f9cde6" fill-opacity="0.75"/>
<polyline points="263.4,360.7 264.1,362.0 264.8,363.2 265.5,364.5 266.2,365.6 266.8,366.8 267.5,367.9 268.2,369.1 268.9,369.7 269.6,370.4 270.3,371.0 270.9,371.7 271.6,372.3 272.3,372.9 273.0,373.5 273.7,374.1 274.4,374.8 275.1,375.5 275.7,376.3 276.4,377.0 277.1,377.8 277.8,378.5 278.5,379.2 279.2,379.9 279.9,380.6 280.5,381.2 281.2,381.9 281.9,382.5 282.6,383.2 283.3,383.8 284.0,384.4 284.6,385.0 285.3,385.6 286.0,386.2 286.7,386.7 287.4,387.3 288.1,387.9 288.8,388.4 289.4,388.9 290.1,389.4 290.8,390.0 291.5,390.5 292.2,391.0 292.9,391.4 293.6,391.9 294.2,392.3 294.9,392.6 295.6,393.0 296.3,393.3 297.0,393.7 297.7,394.0 298.3,394.4 299.0,394.7 299.7,395.0 300.4,395.3 301.1,395.6 301.8,396.0 302.5,396.3 303.1,396.6 303.8,396.9 304.5,397.2 305.2,397.5 305.9,397.8 306.6,398.0 307.3,398.3 307.9,398.6 308.6,398.9 309.3,399.2 310.0,399.4 310.7,399.7 311.4,400.0 312.0,400.2 312.7,400.5 313.4,400.7 314.1,401.0 314.8,401.2 315.5,401.4 316.2,401.7 316.8,401.9 317.5,402.1 318.2,402.4 318.9,402.6 319.6,402.8 320.3,403.0 321.0,403.3 321.6,403.5 322.3,403.7 323.0,403.9 323.7,404.1 324.4,404.3 325.1,404.5 325.7,404.7 326.4,404.9 327.1,405.1 327.8,405.2 328.5,405.3 329.2,405.4 329.9,405.5 330.5,405.5 331.2,405.6 331.9,405.7 332.6,405.8 333.3,405.9 334.0,406.0 334.7,406.1 335.3,406.2 336.0,406.2 336.7,406.3 337.4,406.4 338.1,406.5 338.8,406.6 339.4,406.7 340.1,406.7 340.8,406.8 341.5,406.9 342.2,407.0 342.9,407.1 343.6,407.1 344.2,407.2 344.9,407.3 345.6,407.4 346.3,407.5 347.0,407.5 347.7,407.6 348.4,407.7 349.0,407.8 349.7,407.8 350.4,407.9 351.1,408.0 351.8,408.2 352.5,408.3 353.1,408.4 353.8,408.5 354.5,408.6 355.2,408.7 355.9,408.8 356.6,408.9 357.3,409.0 357.9,409.1 358.6,409.2 359.3,409.3 360.0,409.4 360.7,409.5 361.4,409.6 362.1,409.7 362.7,409.8 363.4,409.9 364.1,410.0 364.8,410.1 365.5,410.2 366.2,410.3 366.8,410.4 367.5,410.5 368.2,410.7 368.9,410.8 369.6,411.0 370.3,411.1 371.0,411.3 371.6,411.4 372.3,411.6 373.0,411.7 373.7,411.8 374.4,412.0 375.1,412.1 375.8,412.2 376.4,412.4 377.1,412.5 377.8,412.6 378.5,412.8 379.2,412.9 379.9,413.0 380.6,413.1 381.2,413.2 381.9,413.3 382.6,413.5 383.3,413.6 384.0,413.7 384.7,413.8 385.3,413.9 386.0,414.1 386.7,414.2 387.4,414.4 388.1,414.5 388.8,414.7 389.5,414.8 390.1,415.0 390.8,415.1 391.5,415.3 392.2,415.4 392.9,415.5 393.6,415.7 394.3,415.8 394.9,415.9 395.6,416.0 396.3,416.2 397.0,416.3 397.7,416.4 398.4,416.5 399.0,416.6 399.7,416.7 400.4,416.8 401.1,416.9 401.8,417.0 402.5,417.3 403.2,417.6 403.8,417.9 404.5,418.2 405.2,418.4 405.9,418.7 406.6,418.9 407.3,419.1 408.0,419.2 408.6,419.4 409.3,419.5 410.0,419.6 410.7,419.7 411.4,419.8 412.1,419.9 412.7,420.0 413.4,420.1 414.1,420.2 414.8,420.2 415.5,420.3 416.2,420.3 416.9,420.4 417.5,420.4 418.2,420.4 418.9,420.5" fill="none" stroke="#f7b9de" stroke-width="4.6" stroke-opacity="0.95" stroke-linejoin="round"/>
<polygon points="264.8,360.3 267.7,363.2 264.8,366.1 261.9,363.2" fill="#f7b9de"/>
<polygon points="266.8,363.9 269.7,366.8 266.8,369.7 263.9,366.8" fill="#f7b9de"/>
<polygon points="268.9,366.8 271.8,369.7 268.9,372.6 266.0,369.7" fill="#f7b9de"/>
<polygon points="270.9,368.8 273.8,371.7 270.9,374.6 268.1,371.7" fill="#f7b9de"/>
<polygon points="273.0,370.6 275.9,373.5 273.0,376.4 270.1,373.5" fill="#f7b9de"/>
<polygon points="275.1,372.6 278.0,375.5 275.1,378.4 272.2,375.5" fill="#f7b9de"/>
<polygon points="277.1,374.9 280.0,377.8 277.1,380.7 274.2,377.8" fill="#f7b9de"/>
<polygon points="279.2,377.0 282.1,379.9 279.2,382.8 276.3,379.9" fill="#f7b9de"/>
<polygon points="281.2,379.0 284.1,381.9 281.2,384.8 278.3,381.9" fill="#f7b9de"/>
<polygon points="283.3,380.9 286.2,383.8 283.3,386.7 280.4,383.8" fill="#f7b9de"/>
<polygon points="285.3,382.7 288.2,385.6 285.3,388.5 282.4,385.6" fill="#f7b9de"/>
<polygon points="287.4,384.4 290.3,387.3 287.4,390.2 284.5,387.3" fill="#f7b9de"/>
<polygon points="289.4,386.0 292.3,388.9 289.4,391.8 286.5,388.9" fill="#f7b9de"/>
<polygon points="291.5,387.6 294.4,390.5 291.5,393.4 288.6,390.5" fill="#f7b9de"/>
<polygon points="293.6,389.0 296.5,391.9 293.6,394.8 290.7,391.9" fill="#f7b9de"/>
<polygon points="295.6,390.1 298.5,393.0 295.6,395.9 292.7,393.0" fill="#f7b9de"/>
<polygon points="297.7,391.1 300.6,394.0 297.7,396.9 294.8,394.0" fill="#f7b9de"/>
<polygon points="299.7,392.1 302.6,395.0 299.7,397.9 296.8,395.0" fill="#f7b9de"/>
<polygon points="301.8,393.1 304.7,396.0 301.8,398.9 298.9,396.0" fill="#f7b9de"/>
<polygon points="303.8,394.0 306.7,396.9 303.8,399.8 300.9,396.9" fill="#f7b9de"/>
<polygon points="305.9,394.9 308.8,397.8 305.9,400.7 303.0,397.8" fill="#f7b9de"/>
<polygon points="307.9,395.7 310.8,398.6 307.9,401.5 305.0,398.6" fill="#f7b9de"/>
<polygon points="310.0,396.5 312.9,399.4 310.0,402.3 307.1,399.4" fill="#f7b9de"/>
<polygon points="312.0,397.3 314.9,400.2 312.0,403.1 309.1,400.2" fill="#f7b9de"/>
<polygon points="314.1,398.1 317.0,401.0 314.1,403.9 311.2,401.0" fill="#f7b9de"/>
<polygon points="316.2,398.8 319.1,401.7 316.2,404.6 313.3,401.7" fill="#f7b9de"/>
<polygon points="318.2,399.5 321.1,402.4 318.2,405.3 315.3,402.4" fill="#f7b9de"/>
<polygon points="320.3,400.1 323.2,403.0 320.3,405.9 317.4,403.0" fill="#f7b9de"/>
<polygon points="322.3,400.8 325.2,403.7 322.3,406.6 319.4,403.7" fill="#f7b9de"/>
<polygon points="324.4,401.4 327.3,404.3 324.4,407.2 321.5,404.3" fill="#f7b9de"/>
<polygon points="326.4,402.0 329.3,404.9 326.4,407.8 323.5,404.9" fill="#f7b9de"/>
<polygon points="328.5,402.4 331.4,405.3 328.5,408.2 325.6,405.3" fill="#f7b9de"/>
<polygon points="330.5,402.6 333.4,405.5 330.5,408.4 327.6,405.5" fill="#f7b9de"/>
<polygon points="332.6,402.9 335.5,405.8 332.6,408.7 329.7,405.8" fill="#f7b9de"/>
<polygon points="334.7,403.2 337.6,406.1 334.7,409.0 331.8,406.1" fill="#f7b9de"/>
<polygon points="336.7,403.4 339.6,406.3 336.7,409.2 333.8,406.3" fill="#f7b9de"/>
<polygon points="338.8,403.7 341.7,406.6 338.8,409.5 335.9,406.6" fill="#f7b9de"/>
<polygon points="340.8,403.9 343.7,406.8 340.8,409.7 337.9,406.8" fill="#f7b9de"/>
<polygon points="342.9,404.2 345.8,407.1 342.9,410.0 340.0,407.1" fill="#f7b9de"/>
<polygon points="344.9,404.4 347.8,407.3 344.9,410.2 342.0,407.3" fill="#f7b9de"/>
<polygon points="347.0,404.6 349.9,407.5 347.0,410.4 344.1,407.5" fill="#f7b9de"/>
<polygon points="349.0,404.9 351.9,407.8 349.0,410.7 346.1,407.8" fill="#f7b9de"/>
<polygon points="351.1,405.1 354.0,408.0 351.1,410.9 348.2,408.0" fill="#f7b9de"/>
<polygon points="353.1,405.5 356.0,408.4 353.1,411.3 350.2,408.4" fill="#f7b9de"/>
<polygon points="355.2,405.8 358.1,408.7 355.2,411.6 352.3,408.7" fill="#f7b9de"/>
<polygon points="357.3,406.1 360.2,409.0 357.3,411.9 354.4,409.0" fill="#f7b9de"/>
<polygon points="359.3,406.4 362.2,409.3 359.3,412.2 356.4,409.3" fill="#f7b9de"/>
<polygon points="361.4,406.7 364.3,409.6 361.4,412.5 358.5,409.6" fill="#f7b9de"/>
<polygon points="363.4,407.0 366.3,409.9 363.4,412.8 360.5,409.9" fill="#f7b9de"/>
<polygon points="365.5,407.3 368.4,410.2 365.5,413.1 362.6,410.2" fill="#f7b9de"/>
<polygon points="367.5,407.6 370.4,410.5 367.5,413.4 364.6,410.5" fill="#f7b9de"/>
<polygon points="369.6,408.1 372.5,411.0 369.6,413.9 366.7,411.0" fill="#f7b9de"/>
<polygon points="371.6,408.5 374.5,411.4 371.6,414.3 368.7,411.4" fill="#f7b9de"/>
<polygon points="373.7,408.9 376.6,411.8 373.7,414.7 370.8,411.8" fill="#f7b9de"/>
<polygon points="375.8,409.3 378.7,412.2 375.8,415.1 372.9,412.2" fill="#f7b9de"/>
<polygon points="377.8,409.7 380.7,412.6 377.8,415.5 374.9,412.6" fill="#f7b9de"/>
<polygon points="379.9,410.1 382.8,413.0 379.9,415.9 377.0,413.0" fill="#f7b9de"/>
<polygon points="381.9,410.4 384.8,413.3 381.9,416.2 379.0,413.3" fill="#f7b9de"/>
<polygon points="384.0,410.8 386.9,413.7 384.0,416.6 381.1,413.7" fill="#f7b9de"/>
<polygon points="386.0,411.2 388.9,414.1 386.0,417.0 383.1,414.1" fill="#f7b9de"/>
<polygon points="388.1,411.6 391.0,414.5 388.1,417.4 385.2,414.5" fill="#f7b9de"/>
<polygon points="390.1,412.1 393.0,415.0 390.1,417.9 387.2,415.0" fill="#f7b9de"/>
<polygon points="392.2,412.5 395.1,415.4 392.2,418.3 389.3,415.4" fill="#f7b9de"/>
<polygon points="394.3,412.9 397.2,415.8 394.3,418.7 391.4,415.8" fill="#f7b9de"/>
<polygon points="396.3,413.3 399.2,416.2 396.3,419.1 393.4,416.2" fill="#f7b9de"/>
<polygon points="398.4,413.6 401.3,416.5 398.4,419.4 395.5,416.5" fill="#f7b9de"/>
<polygon points="400.4,413.9 403.3,416.8 400.4,419.7 397.5,416.8" fill="#f7b9de"/>
<polygon points="402.5,414.4 405.4,417.3 402.5,420.2 399.6,417.3" fill="#f7b9de"/>
<polygon points="404.5,415.3 407.4,418.2 404.5,421.1 401.6,418.2" fill="#f7b9de"/>
<polygon points="406.6,416.0 409.5,418.9 406.6,421.8 403.7,418.9" fill="#f7b9de"/>
<polygon points="408.6,416.5 411.5,419.4 408.6,422.3 405.7,419.4" fill="#f7b9de"/>
<polygon points="410.7,416.8 413.6,419.7 410.7,422.6 407.8,419.7" fill="#f7b9de"/>
<polygon points="412.7,417.1 415.6,420.0 412.7,422.9 409.8,420.0" fill="#f7b9de"/>
<polygon points="414.8,417.3 417.7,420.2 414.8,423.1 411.9,420.2" fill="#f7b9de"/>
<polygon points="416.9,417.5 419.8,420.4 416.9,423.3 414.0,420.4" fill="#f7b9de"/>
<polygon points="418.9,417.6 421.8,420.5 418.9,423.4 416.0,420.5" fill="#f7b9de"/>
<polygon points="266.6,360.6 268.5,364.0 264.7,364.0" fill="#e8192c"/>
<polygon points="269.9,365.2 271.8,368.6 268.0,368.6" fill="#e8192c"/>
<polygon points="273.1,368.4 275.0,371.8 271.2,371.8" fill="#e8192c"/>
<polygon points="276.4,371.9 278.3,375.3 274.5,375.3" fill="#e8192c"/>
<polygon points="279.7,375.3 281.6,378.7 277.8,378.7" fill="#e8192c"/>
<polygon points="283.0,378.4 284.9,381.8 281.1,381.8" fill="#e8192c"/>
<polygon points="286.3,381.3 288.2,384.8 284.4,384.8" fill="#e8192c"/>
<polygon points="289.6,384.0 291.5,387.4 287.7,387.4" fill="#e8192c"/>
<polygon points="292.9,386.5 294.8,389.9 291.0,389.9" fill="#e8192c"/>
<polygon points="296.2,388.1 298.1,391.6 294.3,391.6" fill="#e8192c"/>
<polygon points="250.4,323.0 253.3,317.8 247.5,317.8" fill="#7a2fd0"/>
<polygon points="250.4,341.9 253.3,336.7 247.5,336.7" fill="#7a2fd0"/>
<polygon points="250.4,353.5 253.3,348.3 247.5,348.3" fill="#7a2fd0"/>
<polygon points="251.8,358.6 254.7,353.3 248.9,353.3" fill="#7a2fd0"/>
<polygon points="254.5,358.6 257.4,353.3 251.6,353.3" fill="#7a2fd0"/>
<polygon points="258.1,367.8 261.0,362.6 255.2,362.6" fill="#7a2fd0"/>
<polygon points="260.4,372.4 263.3,367.2 257.5,367.2" fill="#7a2fd0"/>
<polygon points="262.7,381.7 265.6,376.4 259.8,376.4" fill="#7a2fd0"/>
<polygon points="264.1,383.7 266.7,379.0 261.5,379.0" fill="#7a2fd0"/>
<polygon points="264.9,384.7 267.5,380.1 262.3,380.1" fill="#7a2fd0"/>
<polygon points="265.7,385.2 268.3,380.5 263.1,380.5" fill="#7a2fd0"/>
<polygon points="266.6,385.6 269.2,380.9 264.0,380.9" fill="#7a2fd0"/>
<polygon points="267.4,386.0 270.0,381.3 264.8,381.3" fill="#7a2fd0"/>
<polygon points="268.2,386.4 270.8,381.7 265.6,381.7" fill="#7a2fd0"/>
<polygon points="269.0,386.8 271.6,382.1 266.4,382.1" fill="#7a2fd0"/>
<polygon points="269.9,387.2 272.5,382.5 267.3,382.5" fill="#7a2fd0"/>
<polygon points="270.7,387.6 273.3,382.9 268.1,382.9" fill="#7a2fd0"/>
<polygon points="271.5,388.0 274.1,383.3 268.9,383.3" fill="#7a2fd0"/>
<polygon points="272.3,388.3 274.9,383.7 269.7,383.7" fill="#7a2fd0"/>
<polygon points="273.1,388.7 275.7,384.0 270.5,384.0" fill="#7a2fd0"/>
<polygon points="274.0,389.1 276.6,384.4 271.4,384.4" fill="#7a2fd0"/>
<polygon points="274.8,389.5 277.4,384.8 272.2,384.8" fill="#7a2fd0"/>
<polygon points="275.6,390.0 278.2,385.3 273.0,385.3" fill="#7a2fd0"/>
<polygon points="276.4,390.4 279.0,385.7 273.8,385.7" fill="#7a2fd0"/>
<polygon points="277.3,390.8 279.9,386.2 274.7,386.2" fill="#7a2fd0"/>
<polygon points="278.1,391.3 280.7,386.6 275.5,386.6" fill="#7a2fd0"/>
<polygon points="278.9,391.7 281.5,387.0 276.3,387.0" fill="#7a2fd0"/>
<polygon points="279.7,392.1 282.3,387.4 277.1,387.4" fill="#7a2fd0"/>
<polygon points="280.5,392.5 283.1,387.8 277.9,387.8" fill="#7a2fd0"/>
<polygon points="281.4,392.9 284.0,388.2 278.8,388.2" fill="#7a2fd0"/>
<polygon points="282.2,393.3 284.8,388.6 279.6,388.6" fill="#7a2fd0"/>
<polygon points="283.0,393.7 285.6,389.0 280.4,389.0" fill="#7a2fd0"/>
<polygon points="283.8,394.1 286.4,389.4 281.2,389.4" fill="#7a2fd0"/>
<polygon points="284.7,394.4 287.3,389.7 282.1,389.7" fill="#7a2fd0"/>
<polygon points="285.5,394.6 288.1,390.0 282.9,390.0" fill="#7a2fd0"/>
<polygon points="286.3,394.9 288.9,390.2 283.7,390.2" fill="#7a2fd0"/>
<polygon points="287.1,395.1 289.7,390.5 284.5,390.5" fill="#7a2fd0"/>
<polygon points="287.9,395.4 290.5,390.7 285.3,390.7" fill="#7a2fd0"/>
<polygon points="288.8,395.6 291.4,391.0 286.2,391.0" fill="#7a2fd0"/>
<polygon points="289.6,395.9 292.2,391.2 287.0,391.2" fill="#7a2fd0"/>
<polygon points="290.4,396.1 293.0,391.5 287.8,391.5" fill="#7a2fd0"/>
<polygon points="291.2,396.4 293.8,391.7 288.6,391.7" fill="#7a2fd0"/>
<polygon points="292.0,396.2 294.2,392.3 289.9,392.3" fill="#7a2fd0"/>
<polygon points="292.9,396.4 295.0,392.5 290.7,392.5" fill="#7a2fd0"/>
<polygon points="293.7,396.6 295.8,392.8 291.5,392.8" fill="#7a2fd0"/>
<polygon points="294.5,396.8 296.7,393.0 292.4,393.0" fill="#7a2fd0"/>
<polygon points="295.3,397.0 297.5,393.1 293.2,393.1" fill="#7a2fd0"/>
<polygon points="296.2,397.2 298.3,393.3 294.0,393.3" fill="#7a2fd0"/>
<polygon points="297.0,397.3 299.1,393.5 294.8,393.5" fill="#7a2fd0"/>
<polygon points="297.8,397.5 300.0,393.6 295.7,393.6" fill="#7a2fd0"/>
<polygon points="298.6,397.7 300.8,393.8 296.5,393.8" fill="#7a2fd0"/>
<polygon points="299.4,397.9 301.6,394.0 297.3,394.0" fill="#7a2fd0"/>
<polygon points="300.3,398.0 302.4,394.2 298.1,394.2" fill="#7a2fd0"/>
<polygon points="301.1,398.2 303.2,394.3 298.9,394.3" fill="#7a2fd0"/>
<polygon points="301.9,398.4 304.1,394.5 299.8,394.5" fill="#7a2fd0"/>
<polygon points="302.7,398.5 304.9,394.7 300.6,394.7" fill="#7a2fd0"/>
<polygon points="303.6,398.7 305.7,394.8 301.4,394.8" fill="#7a2fd0"/>
<polygon points="304.4,398.9 306.5,395.0 302.2,395.0" fill="#7a2fd0"/>
<polygon points="305.2,399.0 307.4,395.1 303.1,395.1" fill="#7a2fd0"/>
<polygon points="306.0,399.2 308.2,395.3 303.9,395.3" fill="#7a2fd0"/>
<polygon points="306.8,399.3 309.0,395.5 304.7,395.5" fill="#7a2fd0"/>
<polygon points="307.7,399.5 309.8,395.6 305.5,395.6" fill="#7a2fd0"/>
<polygon points="308.5,399.7 310.6,395.8 306.3,395.8" fill="#7a2fd0"/>
<polygon points="309.3,399.8 311.5,395.9 307.2,395.9" fill="#7a2fd0"/>
<polygon points="310.1,400.0 312.3,396.1 308.0,396.1" fill="#7a2fd0"/>
<polygon points="311.0,400.1 313.1,396.2 308.8,396.2" fill="#7a2fd0"/>
<polygon points="311.8,400.3 313.9,396.4 309.6,396.4" fill="#7a2fd0"/>
<polygon points="312.6,400.4 314.7,396.6 310.4,396.6" fill="#7a2fd0"/>
<polygon points="313.4,400.6 315.6,396.7 311.3,396.7" fill="#7a2fd0"/>
<polygon points="314.2,400.8 316.4,396.9 312.1,396.9" fill="#7a2fd0"/>
<polygon points="315.1,400.9 317.2,397.1 312.9,397.1" fill="#7a2fd0"/>
<polygon points="315.9,401.1 318.0,397.2 313.7,397.2" fill="#7a2fd0"/>
<polygon points="316.7,401.3 318.9,397.4 314.6,397.4" fill="#7a2fd0"/>
<polygon points="317.5,401.4 319.7,397.6 315.4,397.6" fill="#7a2fd0"/>
<polygon points="318.4,401.6 320.5,397.7 316.2,397.7" fill="#7a2fd0"/>
<polygon points="319.2,401.8 321.3,397.9 317.0,397.9" fill="#7a2fd0"/>
<polygon points="320.0,401.9 322.1,398.1 317.8,398.1" fill="#7a2fd0"/>
<polygon points="320.8,402.1 323.0,398.2 318.7,398.2" fill="#7a2fd0"/>
<polygon points="321.6,402.3 323.8,398.4 319.5,398.4" fill="#7a2fd0"/>
<polygon points="322.5,402.4 324.6,398.6 320.3,398.6" fill="#7a2fd0"/>
<polygon points="323.3,402.6 325.4,398.7 321.1,398.7" fill="#7a2fd0"/>
<polygon points="324.1,402.7 326.3,398.9 322.0,398.9" fill="#7a2fd0"/>
<polygon points="324.9,402.9 327.1,399.0 322.8,399.0" fill="#7a2fd0"/>
<polygon points="325.7,403.1 327.9,399.2 323.6,399.2" fill="#7a2fd0"/>
<polygon points="326.6,403.2 328.7,399.3 324.4,399.3" fill="#7a2fd0"/>
<polygon points="327.4,403.3 329.5,399.5 325.2,399.5" fill="#7a2fd0"/>
<polygon points="328.2,403.4 330.4,399.6 326.1,399.6" fill="#7a2fd0"/>
<polygon points="329.0,403.5 331.2,399.7 326.9,399.7" fill="#7a2fd0"/>
<polygon points="329.9,403.6 332.0,399.8 327.7,399.8" fill="#7a2fd0"/>
<polygon points="330.7,403.7 332.8,399.9 328.5,399.9" fill="#7a2fd0"/>
<polygon points="331.5,403.8 333.7,400.0 329.4,400.0" fill="#7a2fd0"/>
<polygon points="332.3,403.9 334.5,400.0 330.2,400.0" fill="#7a2fd0"/>
<polygon points="333.1,404.0 335.3,400.1 331.0,400.1" fill="#7a2fd0"/>
<polygon points="334.0,404.1 336.1,400.2 331.8,400.2" fill="#7a2fd0"/>
<polygon points="334.8,404.2 336.9,400.3 332.6,400.3" fill="#7a2fd0"/>
<polygon points="335.6,404.3 337.8,400.4 333.5,400.4" fill="#7a2fd0"/>
<polygon points="336.4,404.4 338.6,400.5 334.3,400.5" fill="#7a2fd0"/>
<polygon points="337.3,404.5 339.4,400.6 335.1,400.6" fill="#7a2fd0"/>
<polygon points="338.1,404.6 340.2,400.7 335.9,400.7" fill="#7a2fd0"/>
<polygon points="338.9,404.6 341.1,400.8 336.8,400.8" fill="#7a2fd0"/>
<polygon points="339.7,404.7 341.9,400.9 337.6,400.9" fill="#7a2fd0"/>
<polygon points="340.5,404.8 342.7,401.0 338.4,401.0" fill="#7a2fd0"/>
<polygon points="341.4,404.9 343.5,401.0 339.2,401.0" fill="#7a2fd0"/>
<polygon points="342.2,405.0 344.3,401.1 340.0,401.1" fill="#7a2fd0"/>
<polygon points="343.0,405.1 345.2,401.2 340.9,401.2" fill="#7a2fd0"/>
<polygon points="343.8,405.2 346.0,401.3 341.7,401.3" fill="#7a2fd0"/>
<polygon points="344.7,405.3 346.8,401.4 342.5,401.4" fill="#7a2fd0"/>
<polygon points="345.5,405.3 347.6,401.5 343.3,401.5" fill="#7a2fd0"/>
<polygon points="346.3,405.4 348.4,401.6 344.1,401.6" fill="#7a2fd0"/>
<polygon points="347.1,405.5 349.3,401.6 345.0,401.6" fill="#7a2fd0"/>
<polygon points="347.9,405.6 350.1,401.7 345.8,401.7" fill="#7a2fd0"/>
<polygon points="348.8,405.7 350.9,401.8 346.6,401.8" fill="#7a2fd0"/>
<polygon points="349.6,405.8 351.7,401.9 347.4,401.9" fill="#7a2fd0"/>
<polygon points="350.4,405.9 352.6,402.0 348.3,402.0" fill="#7a2fd0"/>
<polygon points="351.2,406.0 353.4,402.1 349.1,402.1" fill="#7a2fd0"/>
<polygon points="352.1,406.1 354.2,402.3 349.9,402.3" fill="#7a2fd0"/>
<polygon points="352.9,406.3 355.0,402.4 350.7,402.4" fill="#7a2fd0"/>
<polygon points="353.7,406.4 355.8,402.5 351.5,402.5" fill="#7a2fd0"/>
<polygon points="354.5,406.5 356.7,402.7 352.4,402.7" fill="#7a2fd0"/>
<polygon points="355.3,406.7 357.5,402.8 353.2,402.8" fill="#7a2fd0"/>
<polygon points="356.2,406.8 358.3,402.9 354.0,402.9" fill="#7a2fd0"/>
<polygon points="357.0,406.9 359.1,403.0 354.8,403.0" fill="#7a2fd0"/>
<polygon points="357.8,407.0 360.0,403.2 355.7,403.2" fill="#7a2fd0"/>
<polygon points="358.6,407.2 360.8,403.3 356.5,403.3" fill="#7a2fd0"/>
<polygon points="359.5,407.3 361.6,403.4 357.3,403.4" fill="#7a2fd0"/>
<polygon points="360.3,407.4 362.4,403.6 358.1,403.6" fill="#7a2fd0"/>
<polygon points="361.1,407.5 363.2,403.7 358.9,403.7" fill="#7a2fd0"/>
<polygon points="361.9,407.7 364.1,403.8 359.8,403.8" fill="#7a2fd0"/>
<polygon points="362.7,407.8 364.9,403.9 360.6,403.9" fill="#7a2fd0"/>
<polygon points="363.6,407.9 365.7,404.0 361.4,404.0" fill="#7a2fd0"/>
<polygon points="364.4,408.0 366.5,404.2 362.2,404.2" fill="#7a2fd0"/>
<polygon points="365.2,408.1 367.4,404.3 363.1,404.3" fill="#7a2fd0"/>
<polygon points="366.0,408.3 368.2,404.4 363.9,404.4" fill="#7a2fd0"/>
<polygon points="366.8,408.4 369.0,404.5 364.7,404.5" fill="#7a2fd0"/>
<polygon points="367.7,408.5 369.8,404.7 365.5,404.7" fill="#7a2fd0"/>
<polygon points="368.5,408.7 370.6,404.8 366.3,404.8" fill="#7a2fd0"/>
<polygon points="369.3,408.9 371.5,405.0 367.2,405.0" fill="#7a2fd0"/>
<polygon points="370.1,409.0 372.3,405.2 368.0,405.2" fill="#7a2fd0"/>
<polygon points="371.0,409.2 373.1,405.3 368.8,405.3" fill="#7a2fd0"/>
<polygon points="371.8,409.4 373.9,405.5 369.6,405.5" fill="#7a2fd0"/>
<polygon points="372.6,409.5 374.8,405.7 370.5,405.7" fill="#7a2fd0"/>
<polygon points="373.4,409.7 375.6,405.8 371.3,405.8" fill="#7a2fd0"/>
<polygon points="374.2,409.9 376.4,406.0 372.1,406.0" fill="#7a2fd0"/>
<polygon points="375.1,410.0 377.2,406.2 372.9,406.2" fill="#7a2fd0"/>
<polygon points="375.9,410.2 378.0,406.3 373.7,406.3" fill="#7a2fd0"/>
<polygon points="376.7,410.3 378.9,406.5 374.6,406.5" fill="#7a2fd0"/>
<polygon points="377.5,410.5 379.7,406.6 375.4,406.6" fill="#7a2fd0"/>
<polygon points="378.4,410.6 380.5,406.8 376.2,406.8" fill="#7a2fd0"/>
<polygon points="379.2,410.8 381.3,406.9 377.0,406.9" fill="#7a2fd0"/>
<polygon points="380.0,410.9 382.2,407.1 377.9,407.1" fill="#7a2fd0"/>
<polygon points="380.8,411.1 383.0,407.2 378.7,407.2" fill="#7a2fd0"/>
<polygon points="381.6,411.2 383.8,407.3 379.5,407.3" fill="#7a2fd0"/>
<polygon points="382.5,411.4 384.6,407.5 380.3,407.5" fill="#7a2fd0"/>
<polygon points="383.3,411.5 385.4,407.6 381.1,407.6" fill="#7a2fd0"/>
<polygon points="384.1,411.6 386.3,407.8 382.0,407.8" fill="#7a2fd0"/>
<polygon points="384.9,411.8 387.1,407.9 382.8,407.9" fill="#7a2fd0"/>
<polygon points="385.8,412.0 387.9,408.1 383.6,408.1" fill="#7a2fd0"/>
<polygon points="386.6,412.3 388.7,408.4 384.4,408.4" fill="#7a2fd0"/>
<polygon points="387.4,412.6 389.5,408.7 385.2,408.7" fill="#7a2fd0"/>
<polygon points="388.2,412.9 390.4,409.0 386.1,409.0" fill="#7a2fd0"/>
<polygon points="389.0,413.2 391.2,409.3 386.9,409.3" fill="#7a2fd0"/>
<polygon points="389.9,413.5 392.0,409.6 387.7,409.6" fill="#7a2fd0"/>
<polygon points="390.7,413.7 392.8,409.9 388.5,409.9" fill="#7a2fd0"/>
<polygon points="391.5,414.0 393.7,410.1 389.4,410.1" fill="#7a2fd0"/>
<polygon points="392.3,414.3 394.5,410.4 390.2,410.4" fill="#7a2fd0"/>
<polygon points="393.2,414.5 395.3,410.6 391.0,410.6" fill="#7a2fd0"/>
<polygon points="394.0,414.7 396.1,410.9 391.8,410.9" fill="#7a2fd0"/>
<polygon points="394.8,415.0 396.9,411.1 392.6,411.1" fill="#7a2fd0"/>
<polygon points="395.6,415.2 397.8,411.3 393.5,411.3" fill="#7a2fd0"/>
<polygon points="396.4,415.4 398.6,411.6 394.3,411.6" fill="#7a2fd0"/>
<polygon points="397.3,415.6 399.4,411.8 395.1,411.8" fill="#7a2fd0"/>
<polygon points="398.1,415.9 400.2,412.0 395.9,412.0" fill="#7a2fd0"/>
<polygon points="398.9,416.1 401.1,412.2 396.8,412.2" fill="#7a2fd0"/>
<polygon points="399.7,416.3 401.9,412.4 397.6,412.4" fill="#7a2fd0"/>
<polygon points="400.6,416.5 402.7,412.6 398.4,412.6" fill="#7a2fd0"/>
<polygon points="401.4,416.6 403.5,412.8 399.2,412.8" fill="#7a2fd0"/>
<polygon points="402.2,416.9 404.3,413.0 400.0,413.0" fill="#7a2fd0"/>
<polygon points="403.0,417.3 405.2,413.4 400.9,413.4" fill="#7a2fd0"/>
<polygon points="403.8,417.7 406.0,413.8 401.7,413.8" fill="#7a2fd0"/>
<polygon points="404.7,418.0 406.8,414.1 402.5,414.1" fill="#7a2fd0"/>
<polygon points="405.5,418.3 407.6,414.5 403.3,414.5" fill="#7a2fd0"/>
<polygon points="406.3,418.6 408.5,414.8 404.2,414.8" fill="#7a2fd0"/>
<polygon points="407.1,418.9 409.3,415.1 405.0,415.1" fill="#7a2fd0"/>
<polygon points="408.0,419.2 410.1,415.3 405.8,415.3" fill="#7a2fd0"/>
<polygon points="408.8,419.4 410.9,415.6 406.6,415.6" fill="#7a2fd0"/>
<polygon points="409.6,419.7 411.7,415.8 407.4,415.8" fill="#7a2fd0"/>
<polygon points="410.4,419.9 412.6,416.0 408.3,416.0" fill="#7a2fd0"/>
<polygon points="411.2,420.1 413.4,416.2 409.1,416.2" fill="#7a2fd0"/>
<polygon points="412.1,420.3 414.2,416.4 409.9,416.4" fill="#7a2fd0"/>
<polygon points="412.9,420.5 415.0,416.6 410.7,416.6" fill="#7a2fd0"/>
<polygon points="413.7,420.6 415.9,416.7 411.6,416.7" fill="#7a2fd0"/>
<polygon points="414.5,420.8 416.7,416.9 412.4,416.9" fill="#7a2fd0"/>
<polygon points="415.3,420.9 417.5,417.0 413.2,417.0" fill="#7a2fd0"/>
<polygon points="416.2,421.0 418.3,417.2 414.0,417.2" fill="#7a2fd0"/>
<polygon points="417.0,421.2 419.1,417.3 414.8,417.3" fill="#7a2fd0"/>
<polygon points="417.8,421.3 420.0,417.4 415.7,417.4" fill="#7a2fd0"/>
<polygon points="418.6,421.4 420.8,417.5 416.5,417.5" fill="#7a2fd0"/>
<polygon points="419.5,421.5 421.6,417.6 417.3,417.6" fill="#7a2fd0"/>
<polygon points="360.8,403.3 362.2,405.8 359.4,405.8" fill="#e8192c"/>
<polygon points="362.2,403.4 363.6,405.9 360.8,405.9" fill="#e8192c"/>
<polygon points="363.6,403.4 365.0,406.0 362.2,406.0" fill="#e8192c"/>
<polygon points="364.9,403.5 366.3,406.0 363.5,406.0" fill="#e8192c"/>
<polygon points="366.3,403.6 367.7,406.1 364.9,406.1" fill="#e8192c"/>
<polygon points="367.7,403.7 369.1,406.2 366.3,406.2" fill="#e8192c"/>
<polygon points="369.0,403.7 370.4,406.3 367.6,406.3" fill="#e8192c"/>
<polygon points="370.4,403.8 371.8,406.3 369.0,406.3" fill="#e8192c"/>
<polygon points="371.8,403.9 373.2,406.4 370.4,406.4" fill="#e8192c"/>
<polygon points="373.2,404.0 374.6,406.5 371.8,406.5" fill="#e8192c"/>
<polygon points="374.5,404.0 375.9,406.6 373.1,406.6" fill="#e8192c"/>
<polygon points="375.9,404.1 377.3,406.6 374.5,406.6" fill="#e8192c"/>
<polygon points="377.3,404.2 378.7,406.7 375.9,406.7" fill="#e8192c"/>
<polygon points="378.6,404.3 380.0,406.8 377.2,406.8" fill="#e8192c"/>
<polygon points="380.0,404.3 381.4,406.8 378.6,406.8" fill="#e8192c"/>
<polygon points="381.4,404.4 382.8,406.9 380.0,406.9" fill="#e8192c"/>
<polygon points="382.7,404.5 384.1,407.0 381.3,407.0" fill="#e8192c"/>
<polygon points="384.1,404.5 385.5,407.1 382.7,407.1" fill="#e8192c"/>
<polygon points="385.5,404.6 386.9,407.1 384.1,407.1" fill="#e8192c"/>
<polygon points="386.9,404.6 388.3,407.1 385.5,407.1" fill="#e8192c"/>
<polygon points="385.5,403.4 388.1,408.1 382.9,408.1" fill="#e8192c"/>
<rect x="260.1" y="356.2" width="4.4" height="4.4" fill="#1c9bdc"/>
<rect x="248.6" y="228.7" width="3.6" height="3.6" fill="#a9a3c8"/>
<rect x="408.3" y="219.2" width="93" height="84.8" fill="#fff" stroke="#111" stroke-width="1.4"/>
<line x1="417.0" y1="229.0" x2="445.6" y2="229.0" stroke="#8fd3f2" stroke-width="0.8"/>
<rect x="429.2" y="226.8" width="4.4" height="4.4" fill="#1c9bdc"/>
<text class="cb" x="450.3" y="233.4" font-size="12.5" fill="#111" stroke="#111" stroke-width="0.1" text-anchor="start" textLength="41.2" lengthAdjust="spacingAndGlyphs">path 1)</text>
<line x1="417.0" y1="245.5" x2="445.6" y2="245.5" stroke="#f6b26b" stroke-width="0.8"/>
<circle cx="431.4" cy="245.5" r="2.5" fill="#f28a1c"/>
<text class="cb" x="450.3" y="249.9" font-size="12.5" fill="#111" stroke="#111" stroke-width="0.1" text-anchor="start" textLength="41.2" lengthAdjust="spacingAndGlyphs">path 2)</text>
<line x1="417.0" y1="262.0" x2="445.6" y2="262.0" stroke="#f07a85" stroke-width="0.8"/>
<polygon points="431.4,259.1 434.3,264.3 428.5,264.3" fill="#e8192c"/>
<text class="cb" x="450.3" y="266.4" font-size="12.5" fill="#111" stroke="#111" stroke-width="0.1" text-anchor="start" textLength="41.2" lengthAdjust="spacingAndGlyphs">path 3)</text>
<line x1="417.0" y1="278.5" x2="445.6" y2="278.5" stroke="#a77be0" stroke-width="0.8"/>
<polygon points="431.4,281.4 434.3,276.2 428.5,276.2" fill="#7a2fd0"/>
<text class="cb" x="450.3" y="282.9" font-size="12.5" fill="#111" stroke="#111" stroke-width="0.1" text-anchor="start" textLength="41.2" lengthAdjust="spacingAndGlyphs">path 4)</text>
<line x1="417.0" y1="295.0" x2="445.6" y2="295.0" stroke="#fdeef6" stroke-width="0.8"/>
<polygon points="431.4,292.2 434.2,295.0 431.4,297.8 428.6,295.0" fill="#fbcfe6"/>
<text class="cb" x="450.3" y="299.4" font-size="12.5" fill="#111" stroke="#111" stroke-width="0.1" text-anchor="start" textLength="41.2" lengthAdjust="spacingAndGlyphs">path 5)</text>
<text class="cb" x="166.3" y="213.2" font-size="18.5" fill="#111" stroke="#111" stroke-width="0.3" text-anchor="start" textLength="21.2" lengthAdjust="spacingAndGlyphs">(e)</text>
</g></svg></body></html>
